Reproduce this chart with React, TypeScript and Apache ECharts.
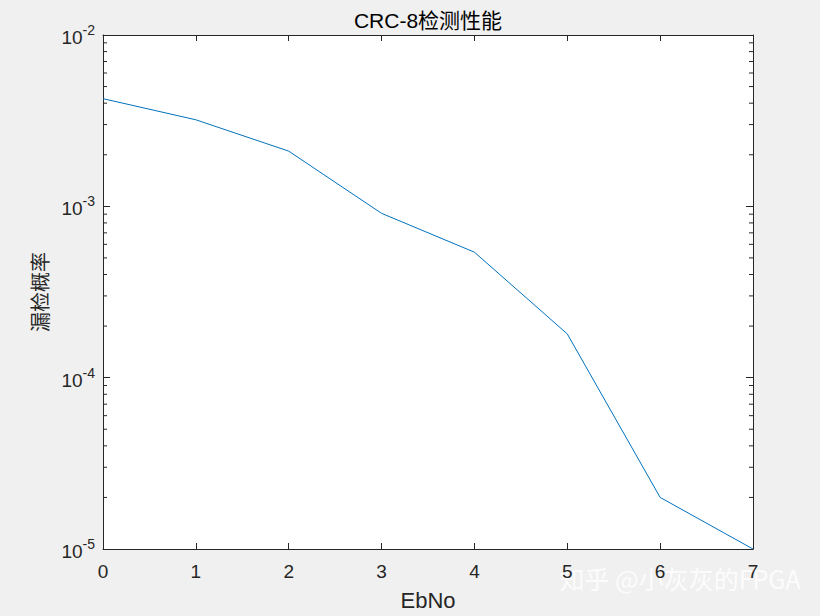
import React, { useEffect, useRef } from "react";
import * as echarts from "echarts";

const ebNo = [0, 1, 2, 3, 4, 5, 6, 7];
const missProb = [4.25e-3, 3.2e-3, 2.1e-3, 9.1e-4, 5.4e-4, 1.8e-4, 2.0e-5, 1.0e-5];
const xTicks = [0, 1, 2, 3, 4, 5, 6, 7];
const yDecades = [-5, -4, -3, -2];
const minorMultipliers = [2, 3, 4, 5, 6, 7, 8, 9];

const titleText = "CRC-8检测性能";
const xName = "EbNo";
const yName = "漏检概率";
const watermark = "知乎 @小灰灰的FPGA";

const FONT = "'Liberation Sans', Arial, 'Noto Sans CJK SC', sans-serif";
const AXIS_COLOR = "#262626";

export default function App() {
  const ref = useRef<HTMLDivElement>(null);
  useEffect(() => {
    if (!ref.current) return;
    const chart = echarts.init(ref.current, undefined, { renderer: "svg" });
    const minorVals: number[] = [];
    yDecades.slice(0, 3).forEach((d) => {
      minorMultipliers.forEach((m) => minorVals.push(m * Math.pow(10, d)));
    });
    const lineData = ebNo.map((x, i) => [x, missProb[i]]);

    const yLabelFmt = (v: number) => {
      const e = Math.round(Math.log10(v));
      return `{b|10}{s|${e}}`;
    };

    const axisLine = { show: true, onZero: false, lineStyle: { color: AXIS_COLOR, width: 1 } };

    chart.setOption({
      animation: false,
      backgroundColor: "#f0f0f0",
      grid: {
        left: 103,
        right: 67,
        top: 35,
        bottom: 67,
        show: true,
        backgroundColor: "#ffffff",
        borderWidth: 0,
        containLabel: false,
        outerBoundsMode: "none",
      },
      xAxis: [
        {
          type: "value",
          min: 0,
          max: 7,
          interval: 1,
          position: "bottom",
          z: 50,
          axisLine,
          axisTick: { show: true, inside: true, length: 6, lineStyle: { color: AXIS_COLOR } },
          axisLabel: {
            show: true,
            margin: 13,
            color: AXIS_COLOR,
            fontSize: 19,
            fontFamily: FONT,
            formatter: (v: number) => (xTicks.includes(v) ? String(v) : ""),
          },
          splitLine: { show: false },
          name: xName,
          nameLocation: "middle",
          nameGap: 40,
          nameTextStyle: { color: AXIS_COLOR, fontSize: 22, fontFamily: FONT },
        },
        {
          type: "value",
          min: 0,
          max: 7,
          interval: 1,
          position: "top",
          axisLine,
          axisTick: { show: true, inside: true, length: 6, lineStyle: { color: AXIS_COLOR } },
          axisLabel: { show: false },
          splitLine: { show: false },
        },
      ],
      yAxis: [
        {
          type: "log",
          logBase: 10,
          min: 1e-5,
          max: 1e-2,
          position: "left",
          axisLine,
          axisTick: { show: true, inside: true, length: 7, lineStyle: { color: AXIS_COLOR } },
          axisLabel: {
            show: true,
            margin: 8,
            formatter: yLabelFmt,
            rich: {
              b: { fontSize: 19, color: AXIS_COLOR, fontFamily: FONT, verticalAlign: "bottom", lineHeight: 24 },
              s: { fontSize: 14, color: AXIS_COLOR, fontFamily: FONT, verticalAlign: "top", lineHeight: 24 },
            },
          },
          splitLine: { show: false },
          minorTick: { show: false },
          name: yName,
          nameLocation: "middle",
          nameGap: 54,
          nameRotate: 90,
          nameTextStyle: { color: AXIS_COLOR, fontSize: 20, fontFamily: "'Noto Sans CJK SC', sans-serif" },
        },
        {
          type: "log",
          logBase: 10,
          min: 1e-5,
          max: 1e-2,
          position: "right",
          axisLine,
          axisTick: { show: true, inside: true, length: 7, lineStyle: { color: AXIS_COLOR } },
          axisLabel: { show: false },
          splitLine: { show: false },
        },
      ],
      graphic: [
        {
          type: "text",
          x: 428,
          y: 20,
          style: {
            text: titleText,
            fill: "#000000",
            font: `21px ${FONT}`,
            align: "center",
            verticalAlign: "middle",
          },
        },
        {
          type: "text",
          x: 680,
          y: 578,
          z: -5,
          style: {
            text: watermark,
            fill: "#ffffff",
            font: `25px 'Noto Sans CJK SC', sans-serif`,
            align: "center",
            verticalAlign: "middle",
            shadowColor: "rgba(0,0,0,0.55)",
            shadowBlur: 3,
            shadowOffsetX: 1,
            shadowOffsetY: 1,
            opacity: 0.85,
          },
        },
      ],
      series: [
        {
          type: "line",
          xAxisIndex: 0,
          yAxisIndex: 0,
          data: lineData,
          showSymbol: false,
          symbol: "none",
          lineStyle: { color: "#0072BD", width: 1 },
          z: 5,
        },
        {
          type: "custom",
          xAxisIndex: 0,
          yAxisIndex: 0,
          clip: false,
          silent: true,
          data: minorVals.map((v) => [0, v]),
          renderItem: (params: any, api: any) => {
            const v = api.value(1);
            const l = api.coord([0, v]);
            const r = api.coord([7, v]);
            const st = { stroke: AXIS_COLOR, lineWidth: 1 };
            return {
              type: "group",
              children: [
                { type: "line", shape: { x1: l[0], y1: l[1], x2: l[0] + 4, y2: l[1] }, style: st },
                { type: "line", shape: { x1: r[0], y1: r[1], x2: r[0] - 4, y2: r[1] }, style: st },
              ],
            };
          },
          z: 3,
        },
      ],
    });
    return () => chart.dispose();
  }, []);
  return <div ref={ref} style={{ position: "fixed", left: 0, top: 0, width: 820, height: 616 }} />;
}
